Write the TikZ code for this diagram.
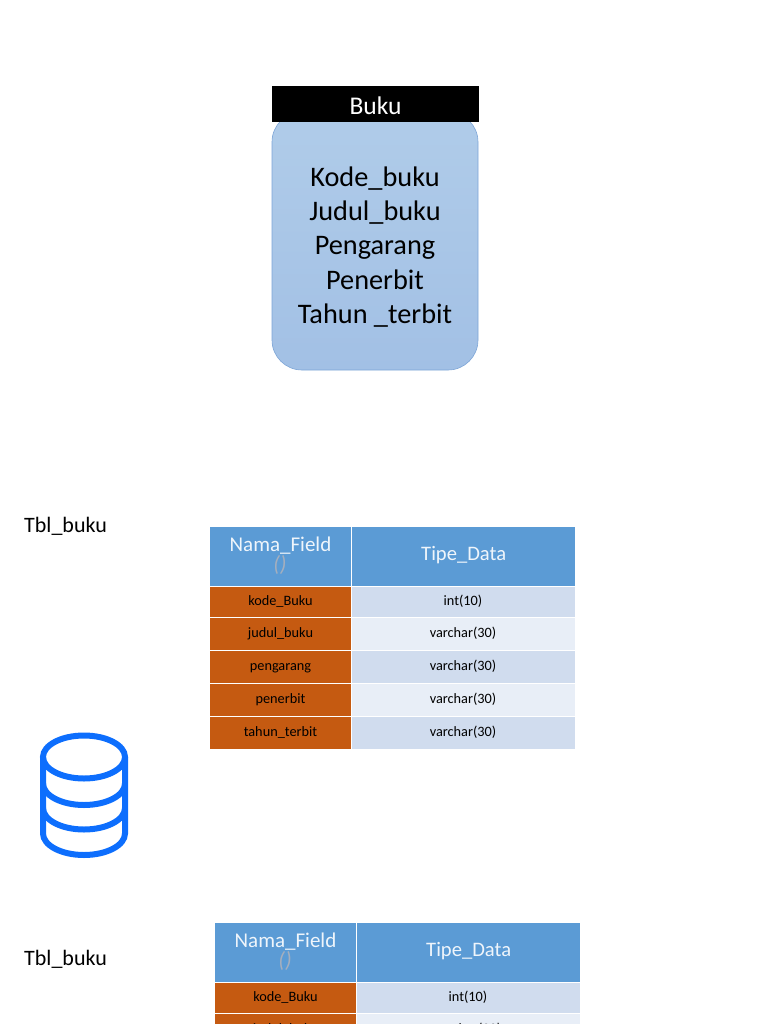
\documentclass[tikz,border=0pt]{standalone}
\usepackage{xcolor}
\usepackage{fontspec}
\setmainfont{Carlito}
\usepackage{tikz}
\definecolor{headblue}{RGB}{91, 155, 213}
\definecolor{keyorange}{RGB}{197, 90, 17}
\definecolor{rowdark}{RGB}{208, 220, 238}
\definecolor{rowlight}{RGB}{232, 238, 247}
\definecolor{boxtop}{RGB}{176, 204, 233}
\definecolor{boxbottom}{RGB}{162, 192, 229}
\definecolor{boxline}{RGB}{125, 165, 215}
\definecolor{iconblue}{RGB}{13, 110, 253}
\definecolor{markgray}{RGB}{165, 175, 190}
\tikzset{
    x=1pt, y=-1pt,
    cell/.style={anchor=north west, inner sep=0pt, text=black, align=center, font=\fontsize{14.3}{16}\selectfont},
    headcell/.style={cell, fill=headblue, text=white!90!headblue, font=\fontsize{20.6}{24}\selectfont},
    rowtext/.style={inner sep=0pt, text height=10pt, text depth=3pt, font=\fontsize{14.3}{16}\selectfont},
    label/.style={anchor=west, inner sep=0pt, font=\fontsize{22}{25}\selectfont},
    entity/.style={inner sep=0pt, font=\fontsize{28.3}{34.4}\selectfont, align=center},
    iconline/.style={iconblue, line width=6pt}
}
% one table: #1 = left edge, #2 = top edge
\newcommand{\fieldtable}[2]{
    \begin{scope}[shift={(#1,#2)}]
        \node[headcell, minimum width=141pt, minimum height=59pt] (head1) at (0,0) {};
        \node[headcell, minimum width=223pt, minimum height=59pt, text height=13pt, text depth=6pt] (head2) at (142,0) {Tipe\_Data};
        \node[font=\fontsize{21}{24}\selectfont, text=white!90!headblue, inner sep=0pt] (headtext) at (70.5,18.5) {Nama\_Field};
        \node[font=\fontsize{22}{24}\selectfont\itshape, text=markgray, inner sep=0pt] (headmark) at (70,38) {()};
        \foreach \name/\type/\top/\high/\shade in {
            kode\_Buku/int(10)/60/30/rowdark,
            judul\_buku/varchar(30)/91/32/rowlight,
            pengarang/varchar(30)/124/32/rowdark,
            penerbit/varchar(30)/157/32/rowlight,
            tahun\_terbit/varchar(30)/190/32/rowdark} {
            \node[cell, fill=keyorange, minimum width=141pt, minimum height=\high pt] at (0,\top) {};
            \node[cell, fill=\shade, minimum width=223pt, minimum height=\high pt] at (142,\top) {};
            \node[rowtext] at (70.5,\top+\high/2-0.5) {\name};
            \node[rowtext] at (253,\top+\high/2-0.5) {\type};
        }
    \end{scope}
}
\begin{document}
\begin{tikzpicture}
    \clip (0,0) rectangle (768,1024);
    \useasboundingbox (0,0) rectangle (768,1024);

    % entity box
    \node[draw=boxline, line width=0.6pt, rounded corners=30pt, top color=boxtop, bottom color=boxbottom,
        minimum width=206pt, minimum height=258pt] (bukubox) at (375,241) {};
    \node[fill=black, text=white, minimum width=207pt, minimum height=36pt, inner sep=0pt, text height=22pt, text depth=0pt,
        font=\fontsize{25.5}{28}\selectfont] (bukutitle) at (375.5,104) {Buku};
    \node[entity] (bukufields) at (375,247) {Kode\_buku\\Judul\_buku\\Pengarang\\Penerbit\\Tahun \_terbit};

    % tables
    \node[label] (tblone) at (24,526) {Tbl\_buku};
    \fieldtable{210}{527}

    \node[label] (tbltwo) at (24,959) {Tbl\_buku};
    \fieldtable{215}{923}

    % database icon
    \draw[iconline] (84,757) ellipse (41pt and 21.5pt);
    \draw[iconline] (43,757) -- (43,833.5) arc[start angle=180, end angle=0, x radius=41, y radius=21.5] -- (125,757);
    \draw[iconline] (43,783.5) arc[start angle=180, end angle=0, x radius=41, y radius=21.5];
    \draw[iconline] (43,808) arc[start angle=180, end angle=0, x radius=41, y radius=21.5];
\end{tikzpicture}
\end{document}
